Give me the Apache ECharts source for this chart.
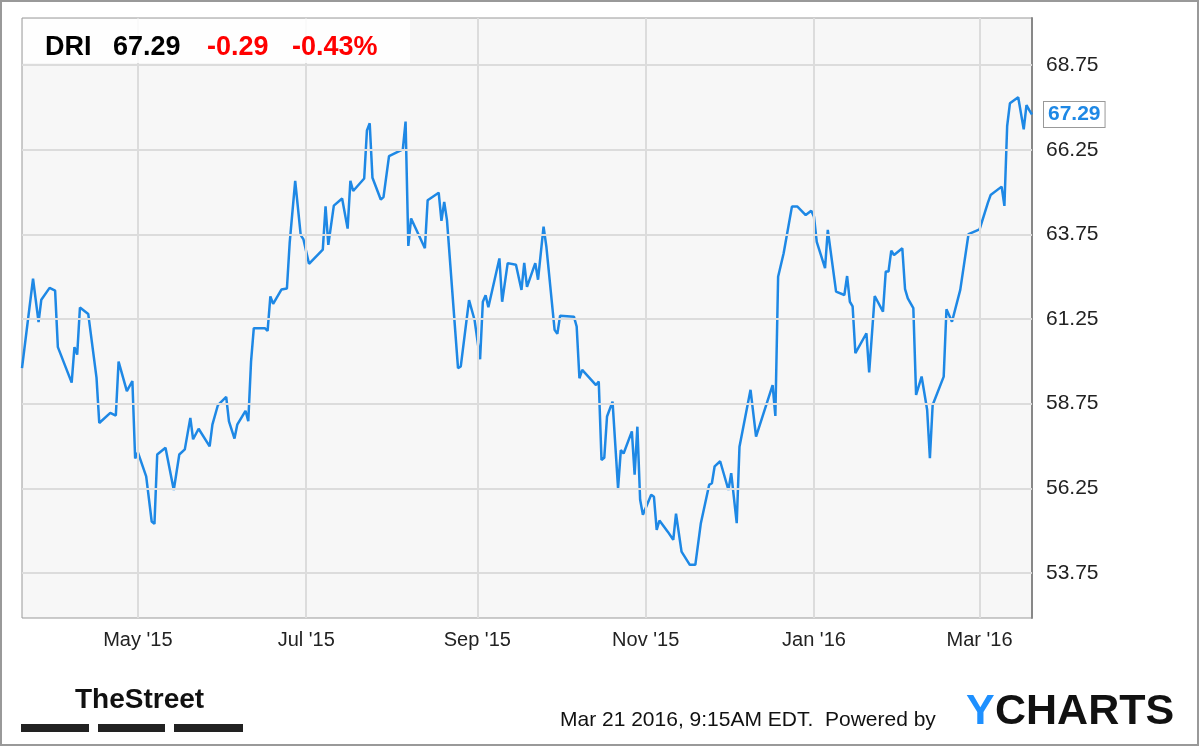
<!DOCTYPE html>
<html>
<head>
<meta charset="utf-8">
<script src="https://cdn.jsdelivr.net/npm/echarts@6/dist/echarts.min.js"></script>
<style>
  html, body { margin: 0; padding: 0; background: #fff; }
  #chart { width: 1200px; height: 747px; }
</style>
</head>
<body>
<div id="chart"></div>
<script>
// first day of the window, and day offsets for each close
const startDate = Date.UTC(2015, 2, 20);
const dayMs = 86400000;

const dayOffsets = [
  0, 4, 6, 7, 10, 12, 13, 18, 19, 20, 21, 24, 27, 28, 32, 34, 35, 38, 40, 41,
  42, 45, 47, 48, 49, 52, 55, 57, 59, 61, 62, 64, 68, 69, 71, 74, 75, 77, 78, 81,
  82, 83, 84, 88, 89, 90, 91, 94, 96, 97, 99, 101, 102, 104, 109, 110, 111, 113, 116, 118,
  119, 120, 124, 125, 126, 127, 130, 131, 133, 138, 139, 140, 141, 146, 147, 151, 152, 153, 154, 158,
  159, 162, 164, 166, 167, 168, 169, 173, 174, 176, 179, 181, 182, 183, 186, 187, 189, 190, 193, 194,
  195, 200, 201, 202, 203, 208, 209, 210, 211, 212, 214, 216, 217, 218, 221, 222, 223, 224, 225, 228,
  229, 230, 231, 234, 236, 237, 239, 242, 244, 246, 249, 250, 251, 253, 256, 257, 259, 260, 264, 266,
  272, 273, 274, 276, 279, 281, 284, 286, 287, 288, 291, 292, 295, 298, 299, 300, 301, 302, 306, 307,
  309, 312, 313, 314, 315, 316, 319, 320, 321, 323, 324, 326, 328, 329, 330, 334, 335, 337, 340, 343,
  347, 350, 351, 355, 356, 357, 358, 361, 363, 364, 365, 366
];

const closes = [
  59.80, 62.44, 61.16, 61.82, 62.17, 62.09, 60.42, 59.37, 60.42, 60.20, 61.59, 61.40, 59.52, 58.18, 58.48, 58.40, 59.99, 59.12, 59.42, 57.13,
  57.31, 56.60, 55.27, 55.20, 57.25, 57.45, 56.20, 57.25, 57.40, 58.33, 57.70, 58.01, 57.49, 58.13, 58.71, 58.95, 58.23, 57.72, 58.13, 58.54,
  58.23, 59.99, 60.98, 60.98, 60.90, 61.92, 61.70, 62.12, 62.15, 63.50, 65.33, 63.73, 63.60, 62.88, 63.30, 64.58, 63.44, 64.60, 64.81, 63.92,
  65.33, 65.03, 65.40, 66.82, 67.03, 65.42, 64.78, 64.85, 66.06, 66.26, 67.08, 63.41, 64.22, 63.34, 64.76, 64.98, 64.15, 64.71, 64.17, 59.80,
  59.85, 61.81, 61.22, 60.06, 61.76, 61.95, 61.60, 63.04, 61.76, 62.90, 62.85, 62.11, 62.91, 62.20, 62.90, 62.41, 63.98, 63.40, 60.93, 60.81,
  61.35, 61.32, 61.03, 59.50, 59.75, 59.30, 59.40, 57.09, 57.15, 58.37, 58.81, 56.25, 57.38, 57.28, 57.93, 56.65, 58.07, 55.91, 55.47, 56.06,
  56.00, 55.02, 55.30, 54.97, 54.73, 55.50, 54.38, 53.99, 53.99, 55.22, 56.35, 56.40, 56.90, 57.05, 56.20, 56.70, 55.22, 57.48, 59.16, 57.78,
  59.30, 58.39, 62.50, 63.19, 64.57, 64.57, 64.32, 64.45, 64.27, 63.53, 62.75, 63.88, 62.06, 61.96, 62.52, 61.76, 61.62, 60.24, 60.83, 59.67,
  61.93, 61.47, 62.65, 62.65, 63.27, 63.14, 63.34, 62.13, 61.86, 61.57, 59.01, 59.55, 58.57, 57.14, 58.71, 59.55, 61.54, 61.17, 62.11, 63.76,
  63.90, 64.68, 64.91, 65.16, 64.59, 66.95, 67.62, 67.80, 66.85, 67.57, 67.42, 67.29
];

const yTicks = [53.75, 56.25, 58.75, 61.25, 63.75, 66.25, 68.75];
const xTickDates = ['2015-05-01', '2015-07-01', '2015-09-01', '2015-11-01', '2016-01-01', '2016-03-01'];
const xTickLabels = ["May '15", "Jul '15", "Sep '15", "Nov '15", "Jan '16", "Mar '16"];

const ticker = 'DRI';
const lastPrice = '67.29';
const change = '-0.29';
const changePct = '-0.43%';

const seriesData = dayOffsets.map((d, i) => [startDate + d * dayMs, closes[i]]);
const xTickTimes = xTickDates.map(s => Date.parse(s + 'T00:00:00Z'));

const chart = echarts.init(document.getElementById('chart'));
const labelFont = '"Liberation Sans", Arial, sans-serif';

chart.setOption({
  animation: false,
  backgroundColor: '#fff',
  grid: {
    left: 22, top: 18, right: 168, bottom: 129,
    show: true, backgroundColor: '#f7f7f7', borderColor: '#999', borderWidth: 1
  },
  xAxis: {
    type: 'value',
    min: startDate,
    max: startDate + 366 * dayMs,
    axisLine: { show: false },
    axisTick: { show: false, customValues: xTickTimes },
    axisLabel: {
      customValues: xTickTimes,
      formatter: v => xTickLabels[xTickTimes.indexOf(v)] || '',
      color: '#222', fontSize: 20, fontFamily: labelFont, margin: 12
    },
    splitLine: { show: false }
  },
  yAxis: {
    type: 'value',
    position: 'right',
    min: 52.42,
    max: 70.14,
    axisLine: { show: true, lineStyle: { color: '#888', width: 2 } },
    axisTick: { show: false, customValues: yTicks },
    axisLabel: {
      customValues: yTicks,
      formatter: v => v.toFixed(2),
      color: '#222', fontSize: 21, fontFamily: labelFont, margin: 14
    },
    splitLine: { show: false }
  },
  series: [{
    type: 'line',
    data: seriesData,
    showSymbol: false,
    lineStyle: { color: '#1e88e5', width: 2.5 },
    endLabel: {
      show: true,
      formatter: lastPrice,
      color: '#1e88e5',
      fontWeight: 'bold',
      fontSize: 21,
      fontFamily: labelFont,
      backgroundColor: '#fff',
      borderColor: '#999',
      borderWidth: 1,
      padding: [3, 4, 1, 4],
      distance: 12
    },
    markLine: {
      silent: true,
      symbol: 'none',
      label: { show: false },
      lineStyle: { color: '#dcdcdc', width: 2, type: 'solid' },
      data: yTicks.map(v => ({ yAxis: v })).concat(xTickTimes.map(t => ({ xAxis: t })))
    },
    z: 3
  }],
  graphic: [
    { type: 'rect', shape: { x: 1, y: 1, width: 1197, height: 744 },
      style: { fill: 'none', stroke: '#999', lineWidth: 2 } },
    { type: 'rect', shape: { x: 23, y: 19, width: 387, height: 44 },
      style: { fill: 'rgba(255,255,255,0.85)' }, z: 10 },
    { type: 'text', x: 45, y: 48, z: 11,
      style: { text: ticker, font: 'bold 27px "Liberation Sans", Arial', fill: '#000', textVerticalAlign: 'middle' } },
    { type: 'text', x: 113, y: 48, z: 11,
      style: { text: lastPrice, font: 'bold 27px "Liberation Sans", Arial', fill: '#000', textVerticalAlign: 'middle' } },
    { type: 'text', x: 207, y: 48, z: 11,
      style: { text: change, font: 'bold 27px "Liberation Sans", Arial', fill: '#ff0000', textVerticalAlign: 'middle' } },
    { type: 'text', x: 292, y: 48, z: 11,
      style: { text: changePct, font: 'bold 27px "Liberation Sans", Arial', fill: '#ff0000', textVerticalAlign: 'middle' } },
    { type: 'text', x: 75, y: 700,
      style: { text: 'TheStreet', font: 'bold 28px "Liberation Sans", Arial', fill: '#111', textVerticalAlign: 'middle' } },
    { type: 'rect', shape: { x: 21, y: 724, width: 68, height: 8 }, style: { fill: '#222' } },
    { type: 'rect', shape: { x: 98, y: 724, width: 67, height: 8 }, style: { fill: '#222' } },
    { type: 'rect', shape: { x: 174, y: 724, width: 69, height: 8 }, style: { fill: '#222' } },
    { type: 'text', x: 560, y: 720,
      style: { text: 'Mar 21 2016, 9:15AM EDT.  Powered by', font: '21px ' + labelFont, fill: '#111', textVerticalAlign: 'middle' } },
    { type: 'text', x: 966, y: 712,
      style: { text: 'Y', font: 'bold 43px "Liberation Sans", Arial', fill: '#1e90ff', textVerticalAlign: 'middle' } },
    { type: 'text', x: 995, y: 712,
      style: { text: 'CHARTS', font: 'bold 43px "Liberation Sans", Arial', fill: '#111', textVerticalAlign: 'middle' } }
  ]
});
</script>
</body>
</html>
